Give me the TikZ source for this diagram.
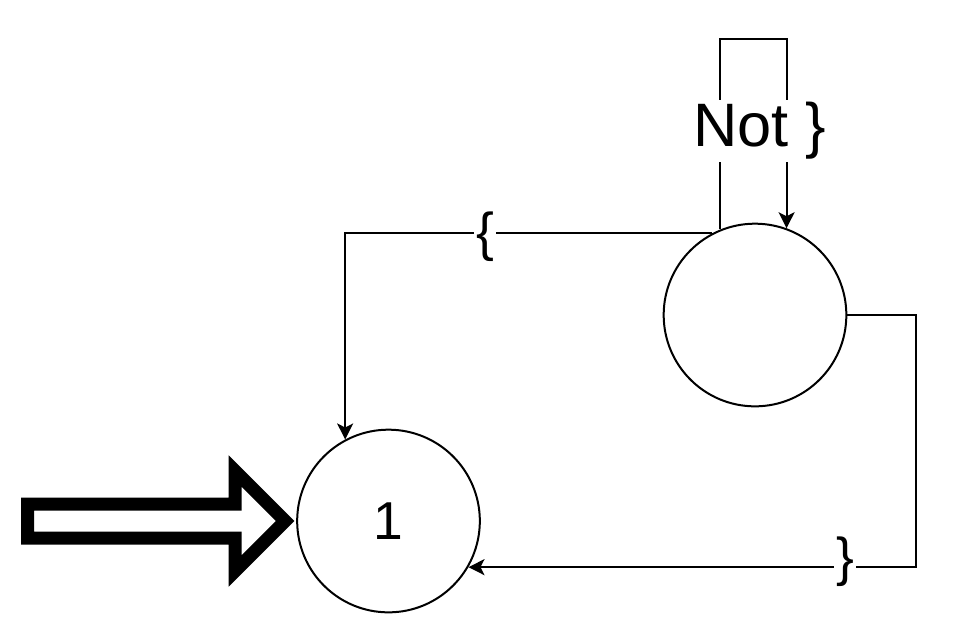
\documentclass[tikz,border=0pt]{standalone}
\usepackage{fontspec}
\setmainfont{Liberation Sans}
\usetikzlibrary{arrows.meta,positioning}

\begin{document}
\begin{tikzpicture}[x=0.75pt, y=-0.75pt,
    state/.style={draw, circle, line width=1.5pt, minimum size=137pt, inner sep=0pt, font=\fontsize{40}{48}\selectfont},
    edge/.style={draw, line width=1.5pt, -{Stealth[length=12pt, width=12pt, inset=3pt]}},
    lbl/.style={fill=white, inner sep=1.5pt, font=\fontsize{40}{48}\selectfont},
    hollow/.style={draw, line width=9.75pt, miter limit=10}]
\useasboundingbox (0,0) rectangle (956,637);

% states
\node[state] (s1) at (388.5,521) {1};
\node[state] (s2) at (755,315) {};

% start arrow
\draw[hollow] (s1.west) ++(-11,0) -- ++(-50,-50) -- ++(0,33) -- ++(-207.5,0)
    -- ++(0,34) -- ++(207.5,0) -- ++(0,33) -- cycle;

% transitions
\draw[edge] (s2.112) -- ++(0,-190) -| (s2.70);
\draw[edge] (s2.118) -| (s1.118);
\draw[edge] (s2.east) -- ++(69,0) |- (s1.-30);

% labels
\node[lbl] (notlbl) at (760,131) {\fontsize{46}{55}\selectfont Not \}};
\node[lbl] (openlbl) at (485,237) {\{};
\node[lbl] (closelbl) at (845,562) {\}};
\end{tikzpicture}
\end{document}
